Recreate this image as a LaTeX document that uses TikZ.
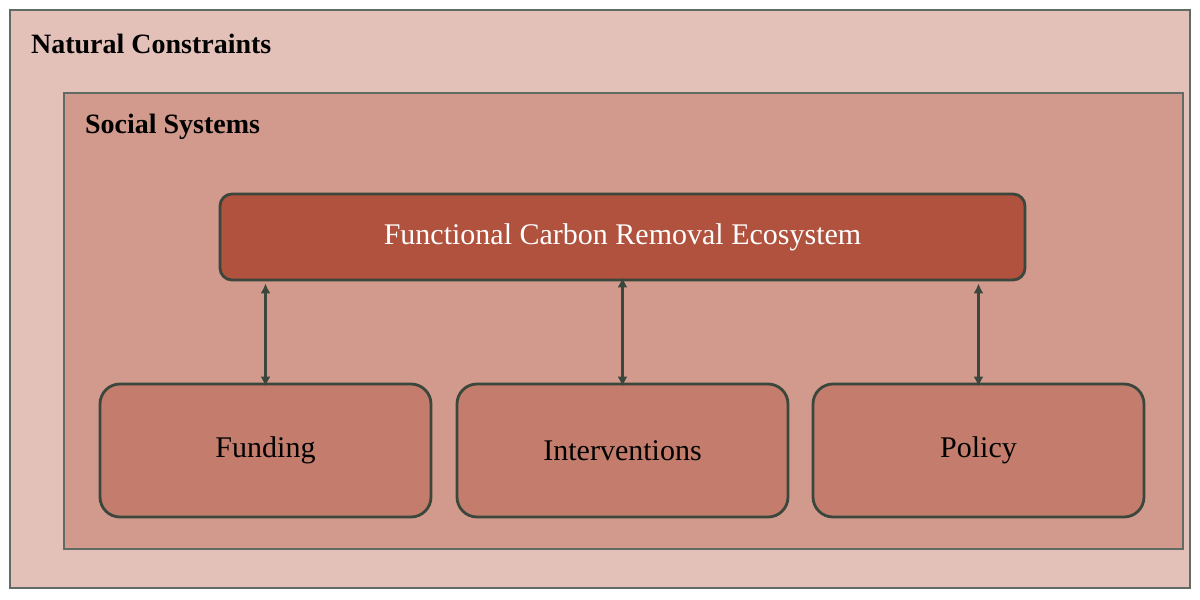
\documentclass[tikz,border=0pt]{standalone}
\usepackage{fontspec}
\setmainfont{Liberation Serif}
\usetikzlibrary{arrows.meta}
\definecolor{outerc}{HTML}{E4C1B8}
\definecolor{socc}{HTML}{D29A8C}
\definecolor{topc}{HTML}{B0523D}
\definecolor{botc}{HTML}{C47D6C}
\definecolor{edge}{HTML}{3B463C}
\begin{document}
\begin{tikzpicture}[x=0.5pt,y=-0.5pt,
  box/.style={draw=edge,line width=1.4pt,rounded corners=10pt,fill=botc,font=\fontsize{15}{18}\selectfont},
  arr/.style={draw=edge,line width=1.1pt,{Latex[length=5pt,width=5pt]}-{Latex[length=5pt,width=5pt]}}]
\useasboundingbox (0,0) rectangle (1200,600);
\fill[white] (0,0) rectangle (1200,600);
\draw[fill=outerc,draw=edge!80,line width=0.6pt] (10,10) rectangle (1190,588);
\node[anchor=west,font=\bfseries\fontsize{14}{17}\selectfont] (nc) at (24,44) {Natural Constraints};
\draw[fill=socc,draw=edge!80,line width=0.6pt] (64,93) rectangle (1183,549);
\node[anchor=west,font=\bfseries\fontsize{14}{17}\selectfont] (ss) at (78,127) {Social Systems};
\node[box,fill=topc,text=white,rounded corners=6pt,minimum width=402.5pt,minimum height=43pt] (eco) at (622.5,237) {Functional Carbon Removal Ecosystem};
\node[box,minimum width=165.5pt,minimum height=66.5pt] (f) at (265.5,450.5) {Funding};
\node[box,minimum width=165.5pt,minimum height=66.5pt] (i) at (622.5,450.5) {Interventions};
\node[box,minimum width=165.5pt,minimum height=66.5pt] (p) at (978.5,450.5) {Policy};
\draw[arr] (f.north |- eco.south) ++(0,2) -- ([yshift=-2pt]f.north);
\draw[arr] ([yshift=2pt]eco.south) -- ([yshift=-2pt]i.north);
\draw[arr] (p.north |- eco.south) ++(0,2) -- ([yshift=-2pt]p.north);
\end{tikzpicture}
\end{document}
